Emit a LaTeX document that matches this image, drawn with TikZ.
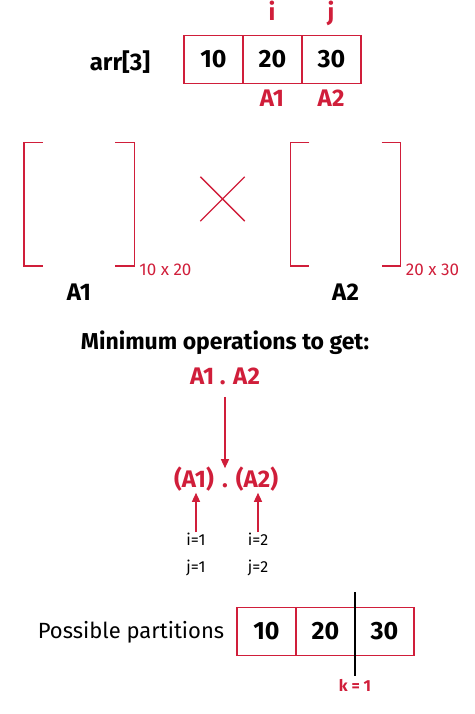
\documentclass[tikz,border=0pt]{standalone}
\usepackage{fontspec}
\setmainfont{Fira Sans}
\usetikzlibrary{positioning,calc,arrows.meta,shapes.misc}
\definecolor{arred}{RGB}{208,30,58}
\tikzset{
  cell/.style    = {draw=arred, line width=1.5pt, outer sep=0pt, inner sep=0pt,
                    minimum width=59pt, minimum height=48pt,
                    font=\bfseries\fontsize{25}{30}\selectfont},
  redlbl/.style  = {text=arred, inner sep=0pt, text height=0.72em, text depth=0.2em,
                    font=\bfseries\fontsize{24}{29}\selectfont},
  blklbl/.style  = {inner sep=0pt, font=\bfseries\fontsize{24}{29}\selectfont},
  dimlbl/.style  = {text=arred, inner sep=0pt, font=\fontsize{17}{20}\selectfont},
  idx/.style     = {inner sep=0pt, text height=0.72em, text depth=0.2em,
                    font=\fontsize{16}{19}\selectfont},
  bracket/.style = {draw=arred, line width=1.4pt},
  >={Triangle[width=8pt,length=9pt]}
}
\newcommand{\DrawArray}[2]{%
  % draws the three cells of the array, the first one centred at #2
  \node[cell] (#11) at #2 {10};
  \node[cell, right=0pt of #11] (#12) {20};
  \node[cell, right=0pt of #12] (#13) {30};
}
\newcommand{\DrawMatrix}[4]{%
  % empty node that holds the place of the matrix
  \node[minimum width=110pt, minimum height=123pt, inner sep=0pt] (#1) at #2 {};
  % draws the left and the right bracket
  \draw[bracket] ($(#1.north west)+(19,0)$) -| (#1.south west) -- ++(19,0);
  \draw[bracket] ($(#1.north east)+(-19,0)$) -| (#1.south east) -- ++(-19,0);
  % displays the size (bottom right) and the name (below)
  \node[dimlbl, anchor=west] at ($(#1.south east)+(5,-4)$) {#3};
  \node[blklbl] at ($(#1.south)+(0,-26)$) {#4};
}

\begin{document}
\begin{tikzpicture}[x=1pt,y=1pt]
  \useasboundingbox (0,0) rectangle (474,714);

  % array with its indices
  \node[blklbl] (arrname) at (120,652) {arr[3]};
  \DrawArray{arr}{(213.5,654.5)}
  \node[redlbl] (i) at (272,696) {i};
  \node[redlbl] (j) at (331,696) {j};
  \node[redlbl] (a1) at (272,610) {A1};
  \node[redlbl] (a2) at (331,610) {A2};

  % the two matrices
  \DrawMatrix{m1}{(79,509.5)}{10 x 20}{A1}
  \DrawMatrix{m2}{(345.5,509.5)}{20 x 30}{A2}
  \node[draw=arred, line width=1.4pt, cross out, minimum size=43pt, inner sep=0pt] (times) at (222.5,515) {};

  % minimum operations
  \node[blklbl, font=\bfseries\fontsize{23}{28}\selectfont] (title) at (225,371) {Minimum operations to get:};
  \node[redlbl] (prod) at (225,332) {A1 . A2};
  \node[redlbl] (pa1) at (194,229) {(A1)};
  \node[redlbl] (dot) at (225,229) {.};
  \node[redlbl] (pa2) at (257,229) {(A2)};
  \draw[->, arred, line width=1.4pt, shorten <=10pt, shorten >=12pt] (prod) -- (prod |- pa1.north);

  \node[idx] (i1) at (196,171) {i=1};
  \node[idx] (j1) at (196,144) {j=1};
  \node[idx] (i2) at (258,171) {i=2};
  \node[idx] (j2) at (258,144) {j=2};
  \draw[->, arred, line width=1.3pt, shorten <=6pt, shorten >=3pt] (i1.north) -- (i1.north |- pa1.south);
  \draw[->, arred, line width=1.3pt, shorten <=6pt, shorten >=3pt] (i2.north) -- (i2.north |- pa2.south);

  % partitions
  \node[inner sep=0pt, font=\fontsize{22}{26}\selectfont] (partname) at (131,82) {Possible partitions};
  \DrawArray{part}{(266.5,82.5)}
  \coordinate (cuttop) at ($(part2.north east)+(0,15)$);
  \coordinate (cutbot) at ($(part2.south east)+(0,-21)$);
  \draw[line width=1.4pt] (cuttop) -- (cutbot);
  \node[redlbl, font=\bfseries\fontsize{16}{19}\selectfont, below=8pt of cutbot] (k) {k = 1};
\end{tikzpicture}
\end{document}
